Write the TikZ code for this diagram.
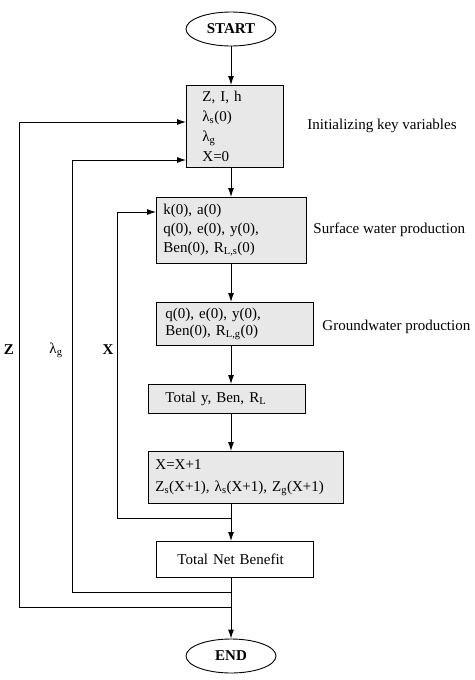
\documentclass[tikz,border=0pt]{standalone}
\usepackage{fontspec}
\setmainfont{Liberation Serif}
\usetikzlibrary{arrows.meta,shapes.geometric}

\begin{document}
\begin{tikzpicture}[x=1pt,y=-1pt,>={Latex[length=9pt,width=6pt]},line width=0.9pt,
  font=\fontsize{15}{19}\selectfont,
  block/.style={draw,fill=gray!18,align=left,anchor=north west,inner ysep=0pt},
  term/.style={draw,ellipse,minimum width=90pt,minimum height=34pt,inner sep=0pt,font=\fontsize{15}{19}\selectfont\bfseries},
  note/.style={anchor=west,inner sep=0pt}]
  \useasboundingbox (0,0) rectangle (474,680);
  \path
  node[term] (start) at (231,29) {START}
  node[block,inner xsep=16pt,text width=65pt,minimum height=82pt,font=\fontsize{15}{20}\selectfont] (init) at (186,85)
    {Z, I, h\\ λ\textsubscript{s}(0)\\ λ\textsubscript{g}\\ X=0}
  node[block,inner xsep=7pt,text width=136pt,minimum height=66pt] (surf) at (156,197)
    {k(0), a(0)\\ q(0), e(0), y(0),\\ Ben(0), R\textsubscript{L,s}(0)}
  node[block,inner xsep=9pt,text width=139pt,minimum height=43pt,font=\fontsize{15}{17}\selectfont] (ground) at (156,302)
    {q(0), e(0), y(0),\\ Ben(0), R\textsubscript{L,g}(0)}
  node[block,inner xsep=17pt,text width=123pt,minimum height=29pt] (total) at (148,384)
    {Total y, Ben, R\textsubscript{L}}
  node[block,inner xsep=7pt,text width=181pt,minimum height=52pt,font=\fontsize{15}{22}\selectfont] (incr) at (148,451)
    {X=X+1\\ Z\textsubscript{s}(X+1), λ\textsubscript{s}(X+1), Z\textsubscript{g}(X+1)}
  node[block,fill=none,inner xsep=21pt,text width=115pt,minimum height=36pt] (net) at (156,541)
    {Total Net Benefit}
  node[term] (stop) at (231,656) {END}
  ;
  % side notes
  \path
  node[note] (initnote) at (307,126) {Initializing key variables}
  node[note] (surfnote) at (313,230) {Surface water production}
  node[note] (groundnote) at (322,327) {Groundwater production}
  node[font=\fontsize{15}{19}\selectfont\bfseries] (zlab) at (9,350) {Z}
  node (glab) at (56,350) {λ\textsubscript{g}}
  node[font=\fontsize{15}{19}\selectfont\bfseries] (xlab) at (108,350) {X}
  ;
  \coordinate (xturn) at (231,518);
  \coordinate (xtop) at (117,212);
  \coordinate (gturn) at (231,592);
  \coordinate (gtop) at (72,160);
  \coordinate (zturn) at (231,607);
  \coordinate (ztop) at (19,122);
  \path[->]
  (start) edge (init.north -| start)
  (init.south -| start) edge (surf.north -| start)
  (surf.south -| start) edge (ground.north -| start)
  (ground.south -| start) edge (total.north -| start)
  (total.south -| start) edge (incr.north -| start)
  (incr.south -| start) edge (net.north -| start)
  (net.south -| start) edge (stop)
  ;
  % loops back
  \draw[->] (xturn) -| (xtop) -- (xtop -| surf.west);
  \draw[->] (gturn) -| (gtop) -- (gtop -| init.west);
  \draw[->] (zturn) -| (ztop) -- (ztop -| init.west);
\end{tikzpicture}
\end{document}
